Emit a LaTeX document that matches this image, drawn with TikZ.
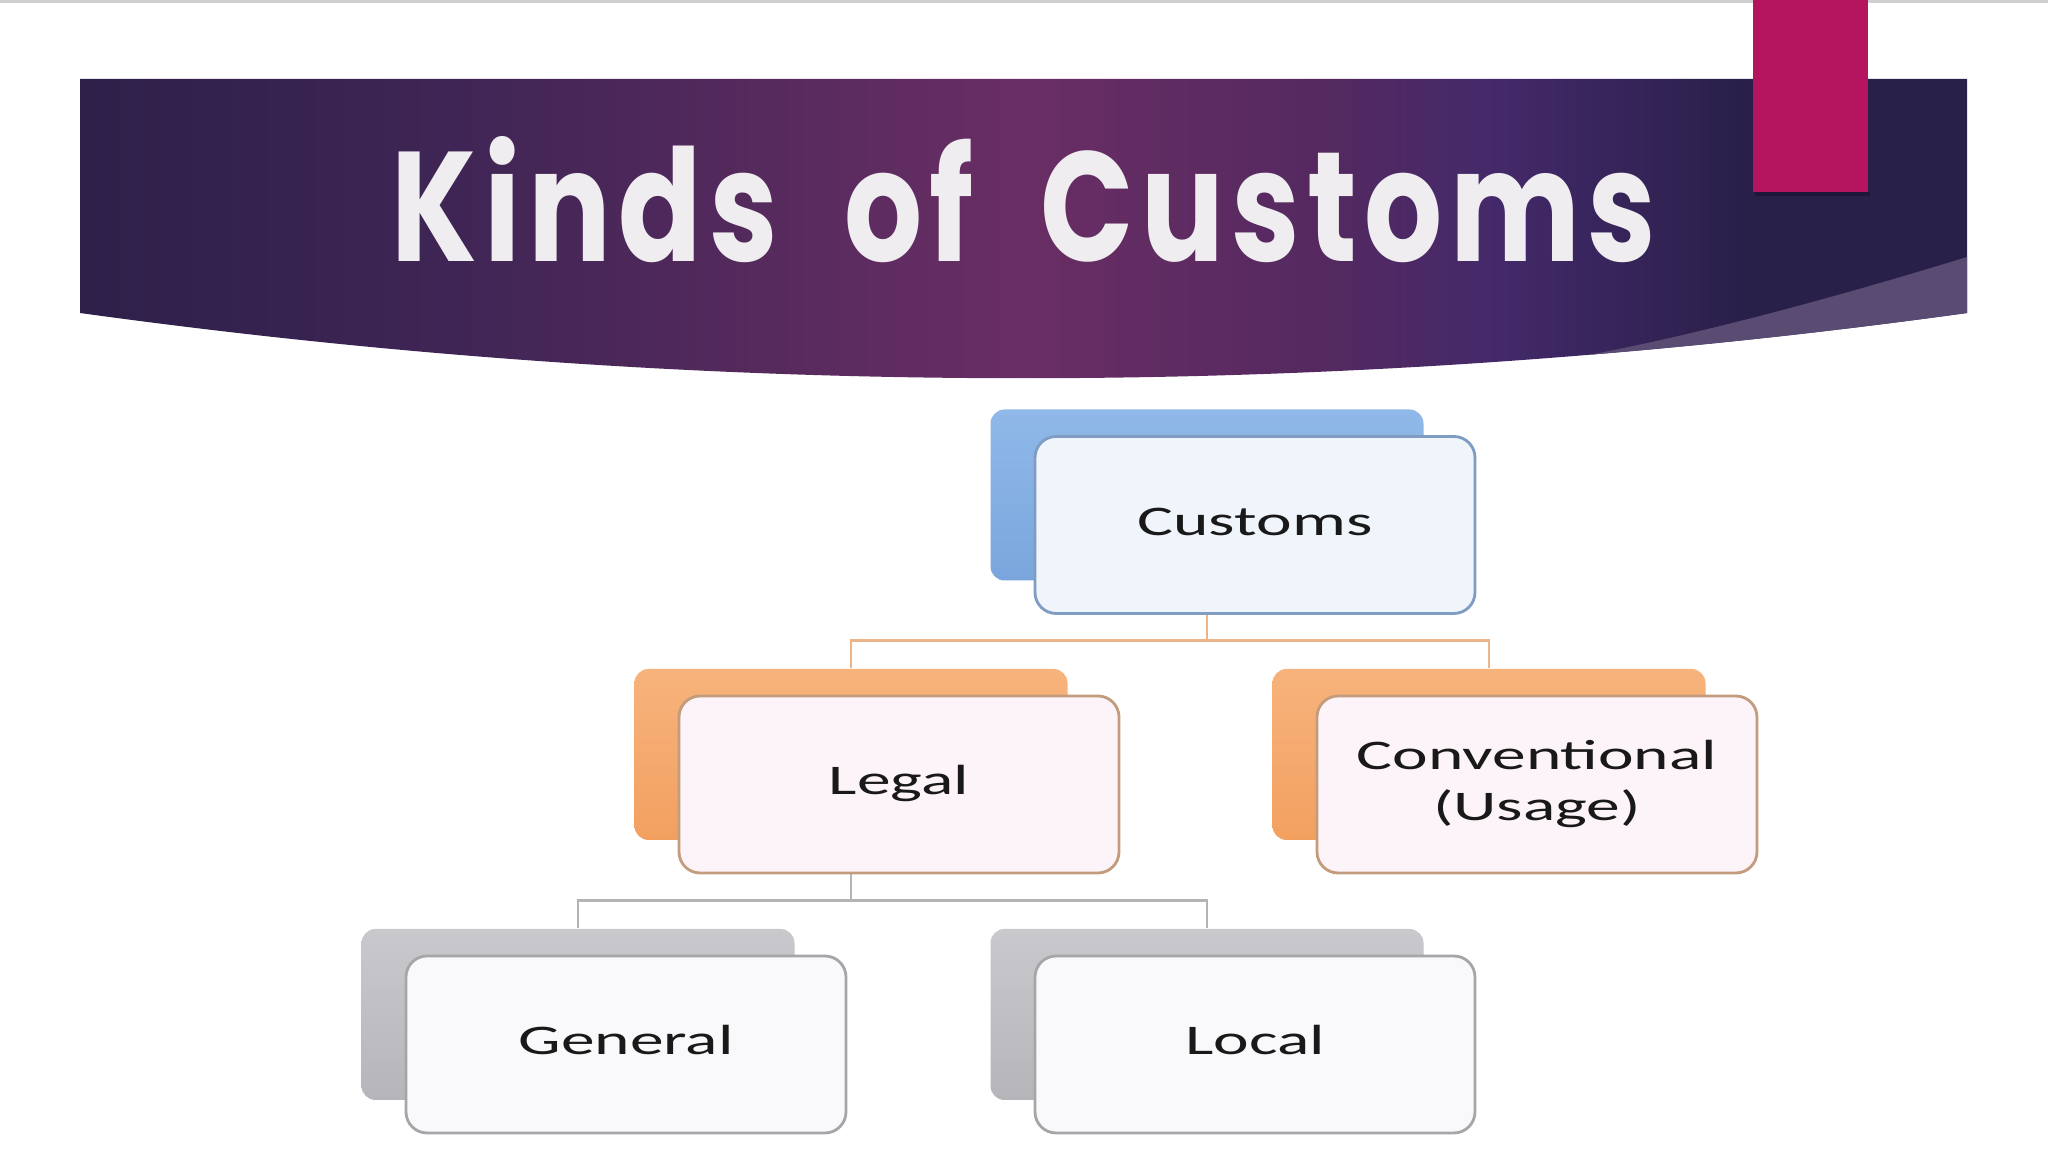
\documentclass[tikz,border=0pt]{standalone}
\usepackage{fontspec}
\setmainfont{Carlito}
\newfontfamily\titlefont{Poppins}[LetterSpace=6.0,WordSpace=2.0]
\usepackage{graphicx}
\usetikzlibrary{calc,positioning,backgrounds}
\definecolor{bnEdgeL}{HTML}{2D2049}
\definecolor{bnMidL}{HTML}{3F2555}
\definecolor{bnCore}{HTML}{692E64}
\definecolor{bnMidR}{HTML}{542960}
\definecolor{bnBlue}{HTML}{44296A}
\definecolor{bnEdgeR}{HTML}{29204A}
\definecolor{sliverCol}{HTML}{594B72}
\definecolor{barCol}{HTML}{B5145F}
\definecolor{titleCol}{HTML}{EFEDF0}
\definecolor{topLine}{HTML}{CFCFD2}
\definecolor{bluTop}{HTML}{90B9E9}
\definecolor{bluBot}{HTML}{7AA6DD}
\definecolor{bluFace}{HTML}{F0F4FB}
\definecolor{bluEdge}{HTML}{7F9CC2}
\definecolor{ornTop}{HTML}{F7B37C}
\definecolor{ornBot}{HTML}{F2A060}
\definecolor{ornFace}{HTML}{FCF4F8}
\definecolor{ornEdge}{HTML}{C29C7C}
\definecolor{gryTop}{HTML}{C9C9CD}
\definecolor{gryBot}{HTML}{B5B5BA}
\definecolor{gryFace}{HTML}{F9F8FA}
\definecolor{gryEdge}{HTML}{A6A6A8}
\definecolor{lnkOrn}{HTML}{EDB488}
\definecolor{lnkGry}{HTML}{B4B4B4}
% tikz maps 25bp..75bp of a shading onto the path
\pgfdeclarehorizontalshading{bannerShade}{100bp}{color(0bp)=(bnEdgeL); color(25bp)=(bnEdgeL);
  color(35bp)=(bnMidL); color(50bp)=(bnCore); color(58bp)=(bnMidR); color(62.5bp)=(bnBlue);
  color(69bp)=(bnEdgeR); color(100bp)=(bnEdgeR)}
\newcommand{\lbl}[1]{\scalebox{1.6}[1]{\begin{tabular}{@{}c@{}}#1\end{tabular}}}
\tikzset{
  backbox/.style={rounded corners=4pt, minimum width=4.33cm, minimum height=1.71cm, inner sep=0pt,
                  top color=#1Top, bottom color=#1Bot},
  frontbox/.style={draw=#1Edge, fill=#1Face, line width=0.8pt,
                   rounded corners=6pt, minimum width=4.40cm, minimum height=1.77cm, inner sep=0pt,
                   font=\fontsize{12}{14.5}\selectfont, text=black!90},
  lnkA/.style={draw=lnkOrn, line width=0.8pt},   % Customs -> kinds
  lnkB/.style={draw=lnkGry, line width=0.8pt},   % Legal -> kinds
  titletext/.style={anchor=base, inner sep=0pt, text=titleCol, font=\titlefont\bfseries},
}
% back card + front card with label
\newcommand{\stackbox}[4]{%
  \node[backbox=#3] (#1B) at (#2) {};
  \node[frontbox=#3] (#1) at ($(#1B.center)+(0.48,-0.30)$) {\lbl{#4}};}

\begin{document}
\begin{tikzpicture}
  \useasboundingbox (0,0) rectangle (20.48,11.52);
  \fill[topLine] (0,11.49) rectangle (20.48,11.52);

  % title banner
  \path[shading=bannerShade] (0.80,10.73) -- (19.67,10.73) -- (19.67,8.39)
    .. controls (13.38,7.52) and (7.09,7.52) .. (0.80,8.39) -- cycle;
  \begin{scope}
    \clip (0.80,10.73) -- (19.67,10.73) -- (19.67,8.39)
      .. controls (13.38,7.52) and (7.09,7.52) .. (0.80,8.39) -- cycle;
    \fill[sliverCol] (19.67,8.95) .. controls (18.6,8.62) and (16.3,7.95) .. (14.85,7.82)
      -- (14.85,7.0) -- (20.0,7.0) -- cycle;
  \end{scope}
  \fill[black, opacity=0.25] (17.55,9.60) rectangle (18.70,9.56);
  \fill[barCol] (17.53,11.52) rectangle (18.68,9.60);
  \node[titletext] (title) at (10.24,8.90) {\resizebox{12.64cm}{1.25cm}{Kinds of Customs}};

  % hierarchy
  \stackbox{cus}{12.07,6.57}{blu}{Customs}
  \stackbox{leg}{8.51,3.975}{orn}{Legal}
  \stackbox{con}{14.89,3.975}{orn}{Conventional\\(Usage)}
  \stackbox{gen}{5.78,1.375}{gry}{General}
  \stackbox{loc}{12.07,1.375}{gry}{Local}

  \begin{scope}[on background layer]
    \fill[white] (0,0) rectangle (20.48,11.49);
    \draw[lnkA] (cusB.south) -- ++(0,-0.59) -| (legB.north);
    \draw[lnkA] (cusB.south) -- ++(0,-0.59) -| (conB.north);
    \draw[lnkB] (legB.south) -- ++(0,-0.60) -| (genB.north);
    \draw[lnkB] (legB.south) -- ++(0,-0.60) -| (locB.north);
  \end{scope}
\end{tikzpicture}
\end{document}
